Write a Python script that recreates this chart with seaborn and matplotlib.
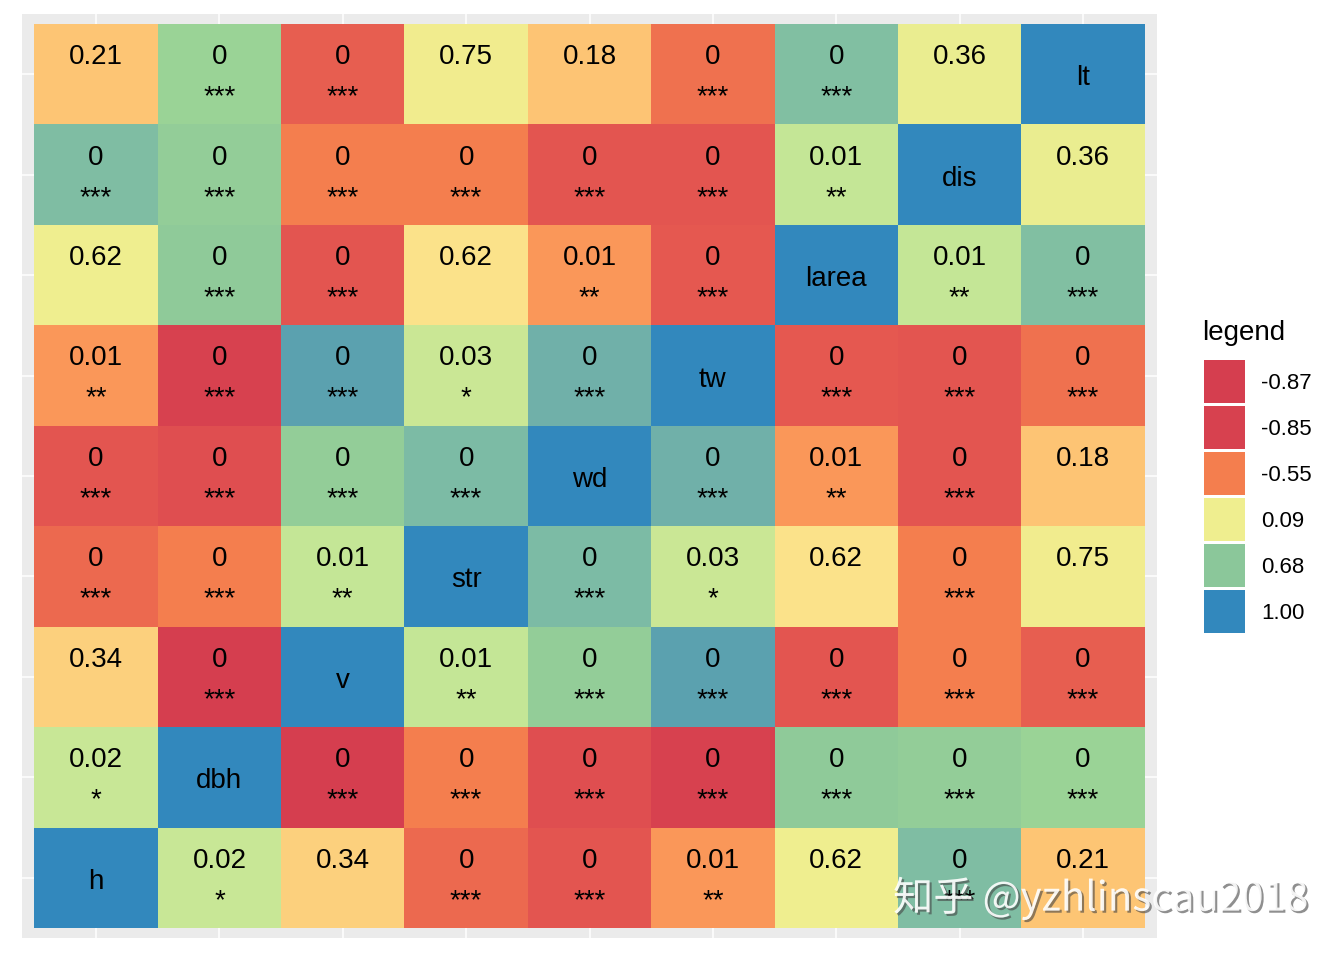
import numpy as np
import pandas as pd
import matplotlib
matplotlib.use("Agg")
import matplotlib.pyplot as plt
import matplotlib.patheffects as pe
from matplotlib.colors import LinearSegmentedColormap
import seaborn as sns

# variables (same order on both axes, h at bottom-left)
variables = ["h", "dbh", "v", "str", "wd", "tw", "larea", "dis", "lt"]

corr_values = [
    [1.00, 0.33, -0.17, -0.65, -0.74, -0.46, 0.09, 0.78, -0.22],
    [0.33, 1.00, -0.87, -0.55, -0.78, -0.85, 0.65, 0.62, 0.56],
    [-0.17, -0.87, 1.00, 0.35, 0.62, 0.92, -0.74, -0.55, -0.70],
    [-0.65, -0.55, 0.35, 1.00, 0.80, 0.32, -0.09, -0.55, 0.06],
    [-0.74, -0.78, 0.62, 0.80, 1.00, 0.85, -0.46, -0.74, -0.23],
    [-0.46, -0.85, 0.92, 0.32, 0.85, 1.00, -0.73, -0.74, -0.61],
    [0.09, 0.65, -0.74, -0.09, -0.46, -0.73, 1.00, 0.35, 0.76],
    [0.78, 0.62, -0.55, -0.55, -0.74, -0.74, 0.35, 1.00, 0.12],
    [-0.22, 0.56, -0.70, 0.06, -0.23, -0.61, 0.76, 0.12, 1.00],
]

# p-values as printed in the tiles
p_labels = [
    ["", "0.02", "0.34", "0", "0", "0.01", "0.62", "0", "0.21"],
    ["0.02", "", "0", "0", "0", "0", "0", "0", "0"],
    ["0.34", "0", "", "0.01", "0", "0", "0", "0", "0"],
    ["0", "0", "0.01", "", "0", "0.03", "0.62", "0", "0.75"],
    ["0", "0", "0", "0", "", "0", "0.01", "0", "0.18"],
    ["0.01", "0", "0", "0.03", "0", "", "0", "0", "0"],
    ["0.62", "0", "0", "0.62", "0.01", "0", "", "0.01", "0"],
    ["0", "0", "0", "0", "0", "0", "0.01", "", "0.36"],
    ["0.21", "0", "0", "0.75", "0.18", "0", "0", "0.36", ""],
]

legend_breaks = [-0.87, -0.85, -0.55, 0.09, 0.68, 1.00]


def stars(p):
    if p == "":
        return ""
    p = float(p)
    if p < 0.005:
        return "***"
    if p < 0.015:
        return "**"
    if p < 0.05:
        return "*"
    return ""


# colour scale (spectral-like)
vmin, vmax = -0.87, 1.00
anchors = [
    (-0.87, "#D53E4F"), (-0.74, "#E45650"), (-0.55, "#F47F4E"),
    (-0.45, "#FB9A5A"), (-0.22, "#FDC675"), (-0.09, "#FBE38A"),
    (0.09, "#EFEE8F"), (0.35, "#C5E696"), (0.52, "#9ED694"),
    (0.68, "#8CC89A"), (0.80, "#7DBBA5"), (0.92, "#5FA3AE"),
    (1.00, "#3288BD"),
]
cmap = LinearSegmentedColormap.from_list(
    "spec", [((v - vmin) / (vmax - vmin), c) for v, c in anchors])

sns.set_theme(style="white")
plt.rcParams["font.family"] = ["Liberation Sans", "DejaVu Sans"]

W, H = 1344, 960
fig = plt.figure(figsize=(W / 100, H / 100), dpi=100)
ax = fig.add_axes([22 / W, 1 - 938 / H, (1157 - 22) / W, (938 - 14) / H])
ax.set_facecolor("#EBEBEB")

corr = pd.DataFrame(corr_values, index=variables, columns=variables)
pvals = pd.DataFrame(p_labels, index=variables, columns=variables)
plot_df = corr.iloc[::-1]

sns.heatmap(plot_df, ax=ax, cmap=cmap, vmin=vmin, vmax=vmax, cbar=False,
            linewidths=0, xticklabels=False, yticklabels=False)

n = len(variables)
ax.set_xlim(-0.1, n + 0.1)
ax.set_ylim(n + 0.1, -0.1)
ax.set_xticks(np.arange(n) + 0.5)
ax.set_yticks(np.arange(n) + 0.5)
ax.set_xticklabels([])
ax.set_yticklabels([])
ax.tick_params(length=0)
ax.set_axisbelow(True)
ax.grid(True, color="white", linewidth=1.1)
for s in ax.spines.values():
    s.set_visible(False)
ax.set_xlabel("")
ax.set_ylabel("")

for i, row_var in enumerate(plot_df.index):
    for j, col_var in enumerate(variables):
        if row_var == col_var:
            ax.text(j + 0.5, i + 0.54, row_var, ha="center", va="center",
                    fontsize=20, color="black")
        else:
            p = pvals.loc[row_var, col_var]
            ax.text(j + 0.5, i + 0.33, p, ha="center", va="center",
                    fontsize=20, color="black")
            ax.text(j + 0.5, i + 0.73, stars(p), ha="center", va="center",
                    fontsize=20, color="black")

# legend
lax = fig.add_axes([1202 / W, 1 - 634 / H, 44 / W, 276 / H])
leg_df = pd.DataFrame({"legend": legend_breaks})
sns.heatmap(leg_df, ax=lax, cmap=cmap, vmin=vmin, vmax=vmax, cbar=False,
            linewidths=1, linecolor="white", xticklabels=False,
            yticklabels=[f"{b:.2f}" for b in legend_breaks])
lax.yaxis.tick_right()
lax.tick_params(axis="y", length=0, pad=11, labelsize=16, labelrotation=0,
                labelcolor="black")
lax.set_ylabel("")
fig.text(1202 / W, 1 - 333 / H, "legend", fontsize=20, va="center",
         ha="left", color="black")

# watermark
fig.text(893 / W, 1 - 898 / H, "知乎 @yzhlinscau2018", fontsize=29,
         color="white", alpha=0.9, va="center", ha="left",
         family=["Noto Sans CJK SC", "DejaVu Sans"],
         path_effects=[pe.withSimplePatchShadow(offset=(1.5, -1.5),
                                                shadow_rgbFace="#444444",
                                                alpha=0.6)])

fig.savefig("out.png", dpi=100)
